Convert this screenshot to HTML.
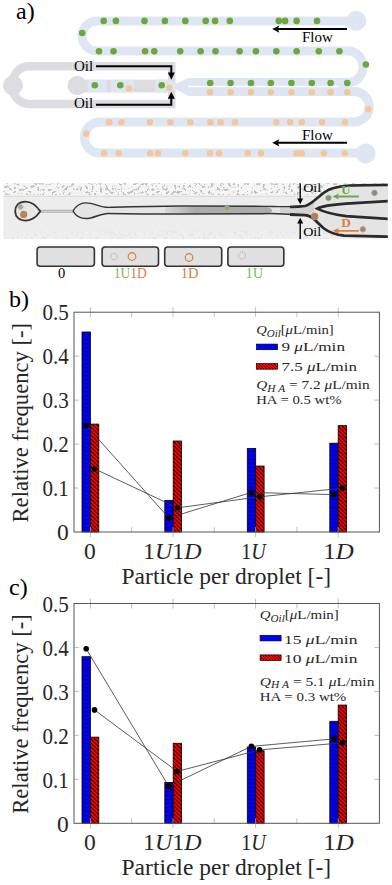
<!DOCTYPE html>
<html><head><meta charset="utf-8">
<style>
html,body{margin:0;padding:0;background:#fff;}
body{width:392px;height:885px;overflow:hidden;}
svg{display:block;font-family:"Liberation Serif",serif;}
.ct text{fill:#262626;}
</style></head>
<body>
<svg width="392" height="885" viewBox="0 0 392 885">

<defs>
  <pattern id="hl" patternUnits="userSpaceOnUse" x="0" y="0.4" width="8" height="4">
    <rect width="8" height="4" fill="#0000ff"/>
    <rect y="2.6" width="8" height="1.1" fill="#000070"/>
  </pattern>
  <pattern id="nw" patternUnits="userSpaceOnUse" width="4" height="4">
    <rect width="4" height="4" fill="#ff0000"/>
    <path d="M-1,-1 L5,5 M-1,3 L1,5 M3,-1 L5,1" stroke="#300000" stroke-width="1.1"/>
  </pattern>
  <pattern id="legred" patternUnits="userSpaceOnUse" width="3" height="3">
    <rect width="3" height="3" fill="#ff0000"/>
    <path d="M-1,-1 L4,4 M-1,2 L1,4 M2,-1 L4,1" stroke="#400000" stroke-width="0.8"/>
  </pattern>
</defs>

<g id="panelA">
<text x="16" y="19" font-size="24">a)</text>
<path d="M175,66.2 H29 A16,16 0 0 0 13,82.2 V88 A16,16 0 0 0 29,104 H175" fill="none" stroke="#dddde1" stroke-width="8.4"/>
<rect x="168" y="62.2" width="7.5" height="45.8" fill="#dddde1"/>
<circle cx="13" cy="85.5" r="10" fill="#dddde1"/>
<circle cx="77.3" cy="85.5" r="9.7" fill="#dddde1"/>
<rect x="77" y="79.7" width="98" height="12.7" fill="#dddde1"/>
<rect x="87.7" y="79.7" width="19.099999999999994" height="12.7" fill="#dfe6f3"/>
<rect x="110.6" y="79.7" width="23.0" height="12.7" fill="#dfe6f3"/>
<rect x="155.3" y="79.7" width="10.699999999999989" height="12.7" fill="#dfe6f3"/>
<path d="M356,21 H97 A15,15 0 0 0 97,51 H350 A16,16 0 0 1 350,82.5 H188" fill="none" stroke="#dfe6f3" stroke-width="9"/>
<path d="M188,91.5 H354 A15.25,15.25 0 0 1 354,122 H100 A15.5,15.5 0 0 0 100,153 H366" fill="none" stroke="#dfe6f3" stroke-width="9"/>
<circle cx="356.3" cy="20.8" r="10" fill="#dfe6f3"/>
<circle cx="365.7" cy="153.5" r="10" fill="#dfe6f3"/>
<path d="M155,79.7 H166 Q172,80 175,83 L177,83 L188.5,78 H200 V96 H188.5 L177,89.8 L175,89.8 Q172,92.2 166,92.4 H155 Z" fill="#dfe6f3"/>
<rect x="188" y="85.8" width="150" height="1.4" fill="#ffffff"/>
<circle cx="103.7" cy="20.9" r="3.3" fill="#6aa83c"/>
<circle cx="115.9" cy="20.9" r="3.3" fill="#6aa83c"/>
<circle cx="144.5" cy="20.9" r="3.3" fill="#6aa83c"/>
<circle cx="164.9" cy="20.9" r="3.3" fill="#6aa83c"/>
<circle cx="185.3" cy="20.9" r="3.3" fill="#6aa83c"/>
<circle cx="205.7" cy="20.9" r="3.3" fill="#6aa83c"/>
<circle cx="215.1" cy="20.9" r="3.3" fill="#6aa83c"/>
<circle cx="229.8" cy="20.9" r="3.3" fill="#6aa83c"/>
<circle cx="278.8" cy="20.9" r="3.3" fill="#6aa83c"/>
<circle cx="285.1" cy="20.9" r="3.3" fill="#6aa83c"/>
<circle cx="296.6" cy="20.9" r="3.3" fill="#6aa83c"/>
<circle cx="317" cy="20.9" r="3.3" fill="#6aa83c"/>
<circle cx="82.2" cy="33" r="3.3" fill="#6aa83c"/>
<circle cx="99" cy="51.3" r="3.3" fill="#6aa83c"/>
<circle cx="113.5" cy="51.3" r="3.3" fill="#6aa83c"/>
<circle cx="145.1" cy="51.3" r="3.3" fill="#6aa83c"/>
<circle cx="154.3" cy="51.3" r="3.3" fill="#6aa83c"/>
<circle cx="180.2" cy="51.3" r="3.3" fill="#6aa83c"/>
<circle cx="200.6" cy="51.3" r="3.3" fill="#6aa83c"/>
<circle cx="215.5" cy="51.3" r="3.3" fill="#6aa83c"/>
<circle cx="239.6" cy="51.3" r="3.3" fill="#6aa83c"/>
<circle cx="255.9" cy="51.3" r="3.3" fill="#6aa83c"/>
<circle cx="276.3" cy="51.3" r="3.3" fill="#6aa83c"/>
<circle cx="296.6" cy="51.3" r="3.3" fill="#6aa83c"/>
<circle cx="318.8" cy="51.3" r="3.3" fill="#6aa83c"/>
<circle cx="339.4" cy="51.3" r="3.3" fill="#6aa83c"/>
<circle cx="365.9" cy="64.5" r="3.3" fill="#6aa83c"/>
<circle cx="210.2" cy="83" r="3.3" fill="#6aa83c"/>
<circle cx="230.6" cy="83" r="3.3" fill="#6aa83c"/>
<circle cx="251" cy="83" r="3.3" fill="#6aa83c"/>
<circle cx="270.8" cy="83" r="3.3" fill="#6aa83c"/>
<circle cx="291.4" cy="83" r="3.3" fill="#6aa83c"/>
<circle cx="311.8" cy="83" r="3.3" fill="#6aa83c"/>
<circle cx="330.6" cy="83" r="3.3" fill="#6aa83c"/>
<circle cx="347.3" cy="83" r="3.3" fill="#6aa83c"/>
<circle cx="94.8" cy="85.3" r="3.3" fill="#6aa83c"/>
<circle cx="120.3" cy="85.3" r="3.3" fill="#6aa83c"/>
<circle cx="161.7" cy="85.3" r="3.3" fill="#6aa83c"/>
<circle cx="129" cy="88.5" r="3.3" fill="#f3c69c"/>
<circle cx="169.2" cy="87.8" r="3.3" fill="#f3c69c"/>
<circle cx="210.2" cy="92.2" r="3.3" fill="#f3c69c"/>
<circle cx="230.6" cy="92.2" r="3.3" fill="#f3c69c"/>
<circle cx="251" cy="92.2" r="3.3" fill="#f3c69c"/>
<circle cx="270.8" cy="92.2" r="3.3" fill="#f3c69c"/>
<circle cx="291.4" cy="92.2" r="3.3" fill="#f3c69c"/>
<circle cx="311.8" cy="92.2" r="3.3" fill="#f3c69c"/>
<circle cx="330.6" cy="92.2" r="3.3" fill="#f3c69c"/>
<circle cx="347.3" cy="92.2" r="3.3" fill="#f3c69c"/>
<circle cx="368.3" cy="109.3" r="3.3" fill="#f3c69c"/>
<circle cx="109.2" cy="122.2" r="3.3" fill="#f3c69c"/>
<circle cx="121.4" cy="122.2" r="3.3" fill="#f3c69c"/>
<circle cx="149.9" cy="122.2" r="3.3" fill="#f3c69c"/>
<circle cx="170.4" cy="122.2" r="3.3" fill="#f3c69c"/>
<circle cx="190.4" cy="122.2" r="3.3" fill="#f3c69c"/>
<circle cx="210.4" cy="122.2" r="3.3" fill="#f3c69c"/>
<circle cx="220.6" cy="122.2" r="3.3" fill="#f3c69c"/>
<circle cx="234.9" cy="122.2" r="3.3" fill="#f3c69c"/>
<circle cx="276.3" cy="122.2" r="3.3" fill="#f3c69c"/>
<circle cx="290.2" cy="122.2" r="3.3" fill="#f3c69c"/>
<circle cx="301.7" cy="122.2" r="3.3" fill="#f3c69c"/>
<circle cx="322.1" cy="122.2" r="3.3" fill="#f3c69c"/>
<circle cx="345" cy="122.2" r="3.3" fill="#f3c69c"/>
<circle cx="86.3" cy="133.5" r="3.3" fill="#f3c69c"/>
<circle cx="104.1" cy="153.3" r="3.3" fill="#f3c69c"/>
<circle cx="118.6" cy="153.3" r="3.3" fill="#f3c69c"/>
<circle cx="150.2" cy="153.3" r="3.3" fill="#f3c69c"/>
<circle cx="158" cy="153.3" r="3.3" fill="#f3c69c"/>
<circle cx="185.3" cy="153.3" r="3.3" fill="#f3c69c"/>
<circle cx="210" cy="153.3" r="3.3" fill="#f3c69c"/>
<circle cx="219.2" cy="153.3" r="3.3" fill="#f3c69c"/>
<circle cx="247.8" cy="153.3" r="3.3" fill="#f3c69c"/>
<circle cx="261" cy="153.3" r="3.3" fill="#f3c69c"/>
<circle cx="296.6" cy="153.3" r="3.3" fill="#f3c69c"/>
<circle cx="301.7" cy="153.3" r="3.3" fill="#f3c69c"/>
<circle cx="323.9" cy="153.3" r="3.3" fill="#f3c69c"/>
<circle cx="344.8" cy="153.3" r="3.3" fill="#f3c69c"/>
<path d="M96,66.2 H171.3 V73" fill="none" stroke="#000" stroke-width="2"/>
<path d="M167.8,72.5 L174.8,72.5 L171.3,79.8 Z" fill="#000"/>
<path d="M96,104.8 H171.3 V98" fill="none" stroke="#000" stroke-width="2"/>
<path d="M167.8,98.8 L174.8,98.8 L171.3,91.8 Z" fill="#000"/>
<text x="74" y="71" font-size="15">Oil</text>
<text x="74" y="108.2" font-size="15">Oil</text>
<path d="M347,29.1 H277" fill="none" stroke="#000" stroke-width="2"/>
<path d="M272.2,29.1 L279.3,25.5 L277.8,29.1 L279.3,32.7 Z" fill="#000"/>
<text x="302" y="42" font-size="15">Flow</text>
<path d="M347,142.8 H277" fill="none" stroke="#000" stroke-width="2"/>
<path d="M272.2,142.8 L279.3,139.2 L277.8,142.8 L279.3,146.4 Z" fill="#000"/>
<text x="302" y="140.2" font-size="15">Flow</text>
</g>
<defs><filter id="speck" x="0" y="0" width="100%" height="100%"><feTurbulence type="fractalNoise" baseFrequency="0.35" numOctaves="2" seed="11"/><feColorMatrix type="matrix" values="0 0 0 0 0.45  0 0 0 0 0.45  0 0 0 0 0.45  -12 0 0 0 5.2"/><feGaussianBlur stdDeviation="0.55"/></filter><clipPath id="phclip"><rect x="3.3" y="183.2" width="384.4" height="56.1"/></clipPath></defs>
<g id="photo" clip-path="url(#phclip)">
<rect x="3.3" y="183.2" width="388.7" height="56.1" fill="#ededed"/>
<rect x="3.3" y="183.2" width="388.7" height="11.5" fill="#f5f5f5"/>
<rect x="3.3" y="183.2" width="388.7" height="11.5" filter="url(#speck)" opacity="0.8"/>
<rect x="3.3" y="231.5" width="388.7" height="7.8" fill="#efefef"/>
<rect x="3.3" y="231.5" width="388.7" height="7.8" filter="url(#speck)" opacity="0.15"/>
<rect x="3.3" y="196.2" width="388.7" height="0.8" fill="#dadada"/>
<path d="M40,211.3 H74" stroke="#b0b0b0" stroke-width="3" fill="none"/>
<path d="M40,211.3 H74" stroke="#d8d8d8" stroke-width="1" fill="none"/>
<path d="M40.3,211.3 C35,203.5 30,201.6 25.5,201.6 C18.5,201.6 15.2,206 15.2,211.2 C15.2,217 19.5,220.6 26,220.6 C31,220.6 35.5,218.5 40.3,211.3 Z" fill="#e6e6e6" stroke="#363636" stroke-width="1.8"/>
<circle cx="20.5" cy="206.8" r="2.6" fill="#a8a8a8" stroke="#9ccc7a" stroke-width="0.9" stroke-dasharray="1.2 0.8"/>
<circle cx="23.7" cy="214.4" r="3" fill="#909090" stroke="#d97a30" stroke-width="1.2"/>
<defs><linearGradient id="dropg" x1="165" y1="0" x2="195" y2="0" gradientUnits="userSpaceOnUse"><stop offset="0" stop-color="#d8d8d8"/><stop offset="1" stop-color="#ababab"/></linearGradient></defs>
<path d="M73,211 C76,205.5 80,202.8 86,202.8 C94,202.8 100,207.4 108,207.4 L305,206 C313,201.5 323,191 350,185.5 L392,184.8 V236.8 L344,235.7 C328,231.5 316,219 305,215.1 L108,212.5 C100,212.5 96,218.2 88,218.2 C82,218.2 78,217.5 73,211 Z" fill="#e4e4e4"/>
<path d="M280,206.6 L305,206 C309,205 312,203 314,200.5 L314,219 C311,216.5 308,215.3 305,215.1 L280,214 Z" fill="#d2d2d2"/>
<path d="M165,206.9 L266,206.9 C270,207.3 273,209.5 272,211.3 C271,212.8 268,213.2 263,213.3 L165,213.3 Z" fill="url(#dropg)"/>
<path d="M73,211 C76,205.5 80,202.8 86,202.8 C94,202.8 100,207.4 108,207.4 C130,206.8 150,206.2 180,206 L265,206.3 C280,206.6 292,207.2 305,206 C310,205 313,201.5 318,197.5 C323,193 327,190 332,188.5 C337,187 342,186 350,185.5 L392,184.8" fill="none" stroke="#333" stroke-width="1.35"/>
<path d="M290,207 C298,206.8 302,206.5 305,206 C310,205 313,201.5 318,197.5 C323,193 327,190 332,188.5 C337,187 342,186 350,185.5 L392,184.8" fill="none" stroke="#2a2a2a" stroke-width="2.6"/>
<path d="M73,211 C76,216.5 80,218.6 86,218.6 C94,218.6 100,213.4 108,213.4 C130,213.8 150,214 180,214 L262,213.8 C272,212.8 282,214 305,215.1 C309,215.5 312,217 315,220 C318,223 321,226 324,228.5 C328,231.5 333,234.5 344,235.7 L392,236.8" fill="none" stroke="#333" stroke-width="1.5"/>
<path d="M290,214.5 C298,214.8 302,215 305,215.1 C309,215.5 312,217 315,220 C318,223 321,226 324,228.5 C328,231.5 333,234.5 344,235.7 L392,236.8" fill="none" stroke="#2a2a2a" stroke-width="2.8"/>
<path d="M392,201 L346,203.6 C332,204.6 322,206 317.2,208.6 C322,211 330,214 346,216.2 L392,219.2" fill="#e2e2e2" stroke="#2a2a2a" stroke-width="2.7"/>
<circle cx="227" cy="207.5" r="2.3" fill="#9a9a9a" stroke="#7fbf50" stroke-width="0.8"/>
<circle cx="328.5" cy="198" r="2.8" fill="#8a8a8a" stroke="#8fc46a" stroke-width="1" stroke-dasharray="1.2 0.8"/>
<circle cx="374.5" cy="192.9" r="2.8" fill="#8a8a8a" stroke="#8fc46a" stroke-width="1" stroke-dasharray="1.2 0.8"/>
<circle cx="314.7" cy="216.5" r="3.1" fill="#8a8a8a" stroke="#d97a30" stroke-width="1.1"/>
<circle cx="362.9" cy="229.3" r="2.8" fill="#8a8a8a" stroke="#e0a070" stroke-width="1"/>
<path d="M300.2,182.6 V200" stroke="#000" stroke-width="1.4"/><path d="M297.2,198.5 L303.2,198.5 L300.2,204.3 Z" fill="#000"/>
<path d="M300.2,239.3 V222" stroke="#000" stroke-width="1.4"/><path d="M297.2,223.5 L303.2,223.5 L300.2,217.8 Z" fill="#000"/>
<text x="303.2" y="192.2" font-size="13.5" textLength="18" lengthAdjust="spacingAndGlyphs">Oil</text>
<text x="303.2" y="236.2" font-size="13.5" textLength="18" lengthAdjust="spacingAndGlyphs">Oil</text>
<text x="341.2" y="194.4" font-size="12.6" font-weight="bold" fill="#6aa83c" textLength="9.2" lengthAdjust="spacingAndGlyphs">U</text>
<path d="M358.8,196.5 H337" stroke="#6aa84f" stroke-width="1.8"/><path d="M332.6,196.5 L338.8,193.6 L337.6,196.5 L338.8,199.4 Z" fill="#6aa84f"/>
<text x="341.2" y="227.3" font-size="12.6" font-weight="bold" fill="#d9803a" textLength="9.6" lengthAdjust="spacingAndGlyphs">D</text>
<path d="M358.8,230.8 H337" stroke="#d9803a" stroke-width="1.8"/><path d="M332.6,230.8 L338.8,227.9 L337.6,230.8 L338.8,233.7 Z" fill="#d9803a"/>
</g>
<rect x="37.099999999999994" y="247" width="57.300000000000004" height="19.2" rx="3" fill="#e1e1e3" stroke="#333" stroke-width="1.6"/>
<rect x="102.1" y="247" width="56.40000000000001" height="19.2" rx="3" fill="#e1e1e3" stroke="#333" stroke-width="1.6"/>
<rect x="164.70000000000002" y="247" width="56.99999999999999" height="19.2" rx="3" fill="#e1e1e3" stroke="#333" stroke-width="1.6"/>
<rect x="227.9" y="247" width="55.90000000000003" height="19.2" rx="3" fill="#e1e1e3" stroke="#333" stroke-width="1.6"/>
<circle cx="114" cy="256.5" r="3.3" fill="none" stroke="#8fc46a" stroke-width="0.9" stroke-dasharray="1.3 0.7"/>
<circle cx="132" cy="256.5" r="3.8" fill="none" stroke="#d9803a" stroke-width="1.2"/>
<circle cx="189" cy="257.5" r="3.8" fill="none" stroke="#d9803a" stroke-width="1.2"/>
<circle cx="242" cy="255.5" r="3.5" fill="none" stroke="#8fc46a" stroke-width="0.9" stroke-dasharray="1.3 0.7"/>
<text x="61.7" y="278.3" font-size="14.5" text-anchor="middle">0</text>
<text x="130.3" y="278.3" font-size="14.5" text-anchor="middle" textLength="33" lengthAdjust="spacingAndGlyphs"><tspan fill="#7ab85a">1U</tspan><tspan fill="#d9803a">1D</tspan></text>
<text x="189.5" y="278.3" font-size="14.5" fill="#d9803a" text-anchor="middle">1D</text>
<text x="254.4" y="278.3" font-size="14.5" fill="#7ab85a" text-anchor="middle">1U</text>
<g class="ct">
<text x="9" y="307.0" font-size="24" style="fill:#000">b)</text>
<rect x="82.0" y="331.98" width="8.4" height="200.02" fill="url(#hl)" stroke="#000" stroke-width="0.8"/>
<rect x="90.4" y="424.08" width="8.4" height="107.92" fill="url(#nw)" stroke="#000" stroke-width="0.8"/>
<rect x="164.79999999999998" y="500.35" width="8.4" height="31.65" fill="url(#hl)" stroke="#000" stroke-width="0.8"/>
<rect x="173.2" y="441.00" width="8.4" height="91.00" fill="url(#nw)" stroke="#000" stroke-width="0.8"/>
<rect x="247.29999999999998" y="448.48" width="8.4" height="83.52" fill="url(#hl)" stroke="#000" stroke-width="0.8"/>
<rect x="255.7" y="466.06" width="8.4" height="65.94" fill="url(#nw)" stroke="#000" stroke-width="0.8"/>
<rect x="329.8" y="443.20" width="8.4" height="88.80" fill="url(#hl)" stroke="#000" stroke-width="0.8"/>
<rect x="338.2" y="425.62" width="8.4" height="106.38" fill="url(#nw)" stroke="#000" stroke-width="0.8"/>
<line x1="90.40" y1="307.2" x2="90.40" y2="317.2" stroke="#b0b0b0" stroke-width="0.8"/>
<line x1="90.40" y1="527.0" x2="90.40" y2="537.0" stroke="#b0b0b0" stroke-width="0.8"/>
<line x1="131.70" y1="312.2" x2="131.70" y2="317.2" stroke="#b0b0b0" stroke-width="0.8"/>
<line x1="131.70" y1="527.0" x2="131.70" y2="532.0" stroke="#b0b0b0" stroke-width="0.8"/>
<line x1="173.00" y1="307.2" x2="173.00" y2="317.2" stroke="#b0b0b0" stroke-width="0.8"/>
<line x1="173.00" y1="527.0" x2="173.00" y2="537.0" stroke="#b0b0b0" stroke-width="0.8"/>
<line x1="214.30" y1="312.2" x2="214.30" y2="317.2" stroke="#b0b0b0" stroke-width="0.8"/>
<line x1="214.30" y1="527.0" x2="214.30" y2="532.0" stroke="#b0b0b0" stroke-width="0.8"/>
<line x1="255.60" y1="307.2" x2="255.60" y2="317.2" stroke="#b0b0b0" stroke-width="0.8"/>
<line x1="255.60" y1="527.0" x2="255.60" y2="537.0" stroke="#b0b0b0" stroke-width="0.8"/>
<line x1="296.90" y1="312.2" x2="296.90" y2="317.2" stroke="#b0b0b0" stroke-width="0.8"/>
<line x1="296.90" y1="527.0" x2="296.90" y2="532.0" stroke="#b0b0b0" stroke-width="0.8"/>
<line x1="338.20" y1="307.2" x2="338.20" y2="317.2" stroke="#b0b0b0" stroke-width="0.8"/>
<line x1="338.20" y1="527.0" x2="338.20" y2="537.0" stroke="#b0b0b0" stroke-width="0.8"/>
<line x1="74.0" y1="488.04" x2="79.0" y2="488.04" stroke="#b0b0b0" stroke-width="0.8"/>
<line x1="374.4" y1="488.04" x2="379.4" y2="488.04" stroke="#b0b0b0" stroke-width="0.8"/>
<line x1="74.0" y1="444.08" x2="79.0" y2="444.08" stroke="#b0b0b0" stroke-width="0.8"/>
<line x1="374.4" y1="444.08" x2="379.4" y2="444.08" stroke="#b0b0b0" stroke-width="0.8"/>
<line x1="74.0" y1="400.12" x2="79.0" y2="400.12" stroke="#b0b0b0" stroke-width="0.8"/>
<line x1="374.4" y1="400.12" x2="379.4" y2="400.12" stroke="#b0b0b0" stroke-width="0.8"/>
<line x1="74.0" y1="356.16" x2="79.0" y2="356.16" stroke="#b0b0b0" stroke-width="0.8"/>
<line x1="374.4" y1="356.16" x2="379.4" y2="356.16" stroke="#b0b0b0" stroke-width="0.8"/>
<rect x="74.0" y="312.2" width="305.4" height="219.8" fill="none" stroke="#555" stroke-width="1"/>
<path d="M86.1,425.35 L168.8,517.93 L251.4,492.44 L333.9,494.63" fill="none" stroke="#333" stroke-width="0.8"/>
<circle cx="86.1" cy="425.35" r="2.8" fill="#000"/>
<circle cx="168.8" cy="517.93" r="2.8" fill="#000"/>
<circle cx="251.4" cy="492.44" r="2.8" fill="#000"/>
<circle cx="333.9" cy="494.63" r="2.8" fill="#000"/>
<path d="M94.5,468.83 L177.5,507.82 L259.6,496.83 L342.5,488.13" fill="none" stroke="#333" stroke-width="0.8"/>
<circle cx="94.5" cy="468.83" r="2.8" fill="#000"/>
<circle cx="177.5" cy="507.82" r="2.8" fill="#000"/>
<circle cx="259.6" cy="496.83" r="2.8" fill="#000"/>
<circle cx="342.5" cy="488.13" r="2.8" fill="#000"/>
<text x="68.8" y="540.20" font-size="23.5" text-anchor="end">0</text>
<text x="68.8" y="496.24" font-size="23.5" text-anchor="end" textLength="26.3" lengthAdjust="spacingAndGlyphs">0.1</text>
<text x="68.8" y="452.28" font-size="23.5" text-anchor="end" textLength="26.3" lengthAdjust="spacingAndGlyphs">0.2</text>
<text x="68.8" y="408.32" font-size="23.5" text-anchor="end" textLength="26.3" lengthAdjust="spacingAndGlyphs">0.3</text>
<text x="68.8" y="364.36" font-size="23.5" text-anchor="end" textLength="26.3" lengthAdjust="spacingAndGlyphs">0.4</text>
<text x="68.8" y="320.40" font-size="23.5" text-anchor="end" textLength="26.3" lengthAdjust="spacingAndGlyphs">0.5</text>
<text transform="translate(27.8,422.7) rotate(-90)" font-size="23" text-anchor="middle" textLength="199.5" lengthAdjust="spacingAndGlyphs">Relative frequency [-]</text>
<text x="89.9" y="559.0" font-size="23.5" text-anchor="middle">0</text>
<text x="172.3" y="559.0" font-size="23.5" text-anchor="middle" textLength="58.5" lengthAdjust="spacingAndGlyphs">1<tspan font-style="italic">U</tspan>1<tspan font-style="italic">D</tspan></text>
<text x="253.5" y="559.0" font-size="23.5" text-anchor="middle" textLength="24.5" lengthAdjust="spacingAndGlyphs">1<tspan font-style="italic">U</tspan></text>
<text x="338.6" y="559.0" font-size="23.5" text-anchor="middle" textLength="30.5" lengthAdjust="spacingAndGlyphs">1<tspan font-style="italic">D</tspan></text>
<text x="226.3" y="584.0" font-size="23.3" text-anchor="middle" textLength="209.5" lengthAdjust="spacingAndGlyphs">Particle per droplet [-]</text>
<text x="256.2" y="334.1" font-size="13.2" textLength="77.5" lengthAdjust="spacingAndGlyphs"><tspan font-style="italic">Q</tspan><tspan font-style="italic" font-size="9.8" dy="2.6">Oil</tspan><tspan dy="-2.6">[</tspan><tspan font-style="italic">μ</tspan>L/min]</text>
<rect x="256.5" y="344.1" width="21" height="5.6" fill="#0000ff" stroke="#000" stroke-width="0.7"/>
<text x="281.5" y="350.7" font-size="13.2" textLength="63.5" lengthAdjust="spacingAndGlyphs">9 <tspan font-style="italic">μ</tspan>L/min</text>
<rect x="256.5" y="363.6" width="21" height="5.6" fill="url(#legred)" stroke="#000" stroke-width="0.7"/>
<text x="281.5" y="371.0" font-size="13.2" textLength="75.5" lengthAdjust="spacingAndGlyphs">7.5 <tspan font-style="italic">μ</tspan>L/min</text>
<text x="256.2" y="389.2" font-size="13.2" textLength="113.5" lengthAdjust="spacingAndGlyphs"><tspan font-style="italic">Q</tspan><tspan font-style="italic" font-size="9.8" dy="2.6">H A</tspan><tspan dy="-2.6"> = 7.2 </tspan><tspan font-style="italic">μ</tspan>L/min</text>
<text x="256.2" y="403.8" font-size="13.2" textLength="85.5" lengthAdjust="spacingAndGlyphs">HA = 0.5 wt%</text>
</g>
<g class="ct">
<text x="9" y="594.6" font-size="24" style="fill:#000">c)</text>
<rect x="82.0" y="656.69" width="8.4" height="166.61" fill="url(#hl)" stroke="#000" stroke-width="0.8"/>
<rect x="90.4" y="737.14" width="8.4" height="86.16" fill="url(#nw)" stroke="#000" stroke-width="0.8"/>
<rect x="164.79999999999998" y="782.42" width="8.4" height="40.88" fill="url(#hl)" stroke="#000" stroke-width="0.8"/>
<rect x="173.2" y="743.29" width="8.4" height="80.01" fill="url(#nw)" stroke="#000" stroke-width="0.8"/>
<rect x="247.29999999999998" y="746.99" width="8.4" height="76.31" fill="url(#hl)" stroke="#000" stroke-width="0.8"/>
<rect x="255.7" y="750.77" width="8.4" height="72.53" fill="url(#nw)" stroke="#000" stroke-width="0.8"/>
<rect x="329.8" y="721.31" width="8.4" height="101.99" fill="url(#hl)" stroke="#000" stroke-width="0.8"/>
<rect x="338.2" y="705.05" width="8.4" height="118.25" fill="url(#nw)" stroke="#000" stroke-width="0.8"/>
<line x1="90.40" y1="598.5" x2="90.40" y2="608.5" stroke="#b0b0b0" stroke-width="0.8"/>
<line x1="90.40" y1="818.3" x2="90.40" y2="828.3" stroke="#b0b0b0" stroke-width="0.8"/>
<line x1="131.70" y1="603.5" x2="131.70" y2="608.5" stroke="#b0b0b0" stroke-width="0.8"/>
<line x1="131.70" y1="818.3" x2="131.70" y2="823.3" stroke="#b0b0b0" stroke-width="0.8"/>
<line x1="173.00" y1="598.5" x2="173.00" y2="608.5" stroke="#b0b0b0" stroke-width="0.8"/>
<line x1="173.00" y1="818.3" x2="173.00" y2="828.3" stroke="#b0b0b0" stroke-width="0.8"/>
<line x1="214.30" y1="603.5" x2="214.30" y2="608.5" stroke="#b0b0b0" stroke-width="0.8"/>
<line x1="214.30" y1="818.3" x2="214.30" y2="823.3" stroke="#b0b0b0" stroke-width="0.8"/>
<line x1="255.60" y1="598.5" x2="255.60" y2="608.5" stroke="#b0b0b0" stroke-width="0.8"/>
<line x1="255.60" y1="818.3" x2="255.60" y2="828.3" stroke="#b0b0b0" stroke-width="0.8"/>
<line x1="296.90" y1="603.5" x2="296.90" y2="608.5" stroke="#b0b0b0" stroke-width="0.8"/>
<line x1="296.90" y1="818.3" x2="296.90" y2="823.3" stroke="#b0b0b0" stroke-width="0.8"/>
<line x1="338.20" y1="598.5" x2="338.20" y2="608.5" stroke="#b0b0b0" stroke-width="0.8"/>
<line x1="338.20" y1="818.3" x2="338.20" y2="828.3" stroke="#b0b0b0" stroke-width="0.8"/>
<line x1="74.0" y1="779.34" x2="79.0" y2="779.34" stroke="#b0b0b0" stroke-width="0.8"/>
<line x1="374.4" y1="779.34" x2="379.4" y2="779.34" stroke="#b0b0b0" stroke-width="0.8"/>
<line x1="74.0" y1="735.38" x2="79.0" y2="735.38" stroke="#b0b0b0" stroke-width="0.8"/>
<line x1="374.4" y1="735.38" x2="379.4" y2="735.38" stroke="#b0b0b0" stroke-width="0.8"/>
<line x1="74.0" y1="691.42" x2="79.0" y2="691.42" stroke="#b0b0b0" stroke-width="0.8"/>
<line x1="374.4" y1="691.42" x2="379.4" y2="691.42" stroke="#b0b0b0" stroke-width="0.8"/>
<line x1="74.0" y1="647.46" x2="79.0" y2="647.46" stroke="#b0b0b0" stroke-width="0.8"/>
<line x1="374.4" y1="647.46" x2="379.4" y2="647.46" stroke="#b0b0b0" stroke-width="0.8"/>
<rect x="74.0" y="603.5" width="305.4" height="219.79999999999995" fill="none" stroke="#555" stroke-width="1"/>
<path d="M86.2,648.78 L168.6,786.15 L251.4,746.37 L333.9,738.90" fill="none" stroke="#333" stroke-width="0.8"/>
<circle cx="86.2" cy="648.78" r="2.8" fill="#000"/>
<circle cx="168.6" cy="786.15" r="2.8" fill="#000"/>
<circle cx="251.4" cy="746.37" r="2.8" fill="#000"/>
<circle cx="333.9" cy="738.90" r="2.8" fill="#000"/>
<path d="M94.5,709.88 L177.1,771.43 L259.6,749.89 L342.5,742.85" fill="none" stroke="#333" stroke-width="0.8"/>
<circle cx="94.5" cy="709.88" r="2.8" fill="#000"/>
<circle cx="177.1" cy="771.43" r="2.8" fill="#000"/>
<circle cx="259.6" cy="749.89" r="2.8" fill="#000"/>
<circle cx="342.5" cy="742.85" r="2.8" fill="#000"/>
<text x="68.8" y="831.50" font-size="23.5" text-anchor="end">0</text>
<text x="68.8" y="787.54" font-size="23.5" text-anchor="end" textLength="26.3" lengthAdjust="spacingAndGlyphs">0.1</text>
<text x="68.8" y="743.58" font-size="23.5" text-anchor="end" textLength="26.3" lengthAdjust="spacingAndGlyphs">0.2</text>
<text x="68.8" y="699.62" font-size="23.5" text-anchor="end" textLength="26.3" lengthAdjust="spacingAndGlyphs">0.3</text>
<text x="68.8" y="655.66" font-size="23.5" text-anchor="end" textLength="26.3" lengthAdjust="spacingAndGlyphs">0.4</text>
<text x="68.8" y="611.70" font-size="23.5" text-anchor="end" textLength="26.3" lengthAdjust="spacingAndGlyphs">0.5</text>
<text transform="translate(27.8,714.0) rotate(-90)" font-size="23" text-anchor="middle" textLength="199.5" lengthAdjust="spacingAndGlyphs">Relative frequency [-]</text>
<text x="89.9" y="850.3" font-size="23.5" text-anchor="middle">0</text>
<text x="172.3" y="850.3" font-size="23.5" text-anchor="middle" textLength="58.5" lengthAdjust="spacingAndGlyphs">1<tspan font-style="italic">U</tspan>1<tspan font-style="italic">D</tspan></text>
<text x="253.5" y="850.3" font-size="23.5" text-anchor="middle" textLength="24.5" lengthAdjust="spacingAndGlyphs">1<tspan font-style="italic">U</tspan></text>
<text x="338.6" y="850.3" font-size="23.5" text-anchor="middle" textLength="30.5" lengthAdjust="spacingAndGlyphs">1<tspan font-style="italic">D</tspan></text>
<text x="226.3" y="875.3" font-size="23.3" text-anchor="middle" textLength="209.5" lengthAdjust="spacingAndGlyphs">Particle per droplet [-]</text>
<text x="259.8" y="619.2" font-size="13.2" textLength="79" lengthAdjust="spacingAndGlyphs"><tspan font-style="italic">Q</tspan><tspan font-style="italic" font-size="9.8" dy="2.6">Oil</tspan><tspan dy="-2.6">[</tspan><tspan font-style="italic">μ</tspan>L/min]</text>
<rect x="260.1" y="635.3" width="21" height="5.6" fill="#0000ff" stroke="#000" stroke-width="0.7"/>
<text x="284" y="644.1" font-size="13.2" textLength="73.5" lengthAdjust="spacingAndGlyphs">15 <tspan font-style="italic">μ</tspan>L/min</text>
<rect x="260.1" y="654.9" width="21" height="5.6" fill="url(#legred)" stroke="#000" stroke-width="0.7"/>
<text x="284" y="663" font-size="13.2" textLength="73.5" lengthAdjust="spacingAndGlyphs">10 <tspan font-style="italic">μ</tspan>L/min</text>
<text x="259.8" y="685.6" font-size="13.2" textLength="114.6" lengthAdjust="spacingAndGlyphs"><tspan font-style="italic">Q</tspan><tspan font-style="italic" font-size="9.8" dy="2.6">H A</tspan><tspan dy="-2.6"> = 5.1 </tspan><tspan font-style="italic">μ</tspan>L/min</text>
<text x="259.8" y="700.5" font-size="13.2" textLength="86.5" lengthAdjust="spacingAndGlyphs">HA = 0.3 wt%</text>
</g>
</svg>
</body></html>
